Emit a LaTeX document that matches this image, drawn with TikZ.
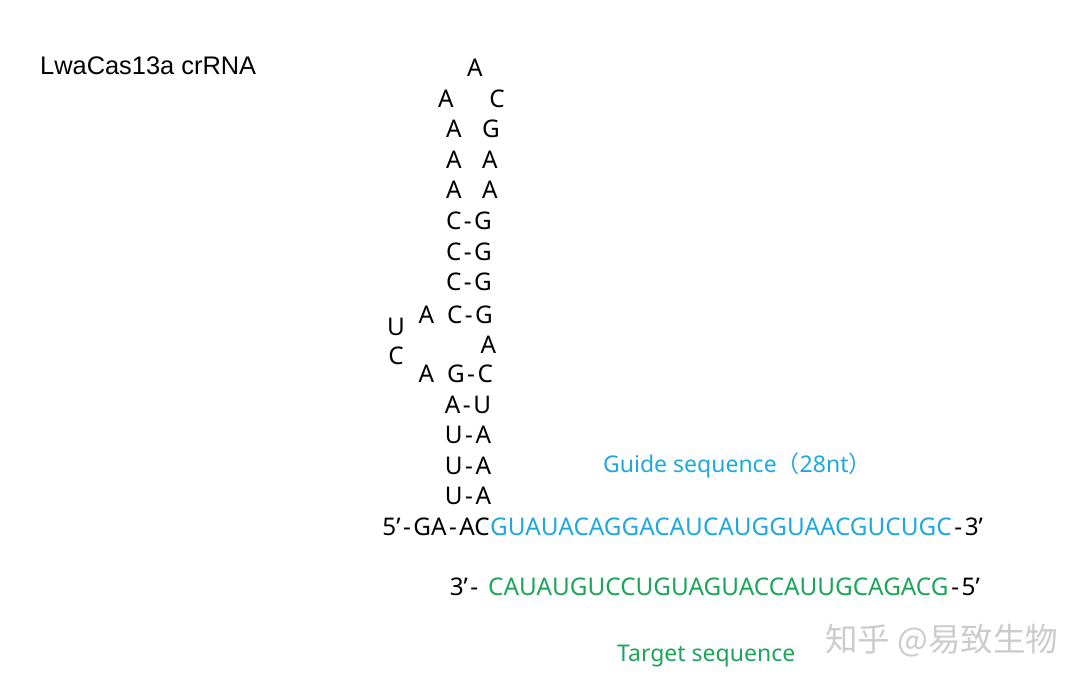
\documentclass[tikz,border=0pt]{standalone}
\usepackage{fontspec}
\setmainfont{Noto Sans}
\newfontfamily\titlefont{Liberation Sans}
\newfontfamily\cjk{Noto Sans CJK SC}
\usetikzlibrary{calc,positioning}
\definecolor{guideblue}{RGB}{31,168,220}
\definecolor{targetgreen}{RGB}{28,164,88}
\newcommand{\bnd}{\kern2.5pt-\kern2.5pt}

\begin{document}
\begin{tikzpicture}[x=1pt,y=-1pt,
        nt/.style={inner sep=0pt, font=\fontsize{24.3}{26}\selectfont},
        lbl/.style={inner sep=0pt, anchor=base west, font=\fontsize{23}{25}\selectfont}]
  \useasboundingbox (0,0) rectangle (1086,687);

  \node [inner sep=0pt, anchor=base west, font=\titlefont\fontsize{25.4}{27}\selectfont] (title) at (40,75) {LwaCas13a crRNA};

  %% loop
  \node [nt] (loop_top) at (475,68) {A};
  \node [nt] (loop_l1) at (446,99) {A};
  \node [nt] (loop_r1) at (497,99) {C};
  \node [nt] (loop_l2) at (454,129) {A};
  \node [nt] (loop_r2) at (491,129) {G};
  \foreach \a/\y in {3/160,4/190} {
    \node [nt,name=loop_l\a] at (454,\y) {A};
    \node [nt,name=loop_r\a] at (490,\y) {A};
  }

  %% upper stem
  \foreach \a/\y in {5/221,6/252,7/282} {
    \node [nt,name=stem_li\a] at (469,\y) {C\bnd G};
  }
  \node [nt] (stem_li8) at (470,315) {C\bnd G};

  %% bulge
  \node [nt] (bulge_l1) at (426.5,315) {A};
  \node [nt] (bulge_u) at (396,327) {U};
  \node [nt] (bulge_c) at (396,356) {C};
  \node [nt] (bulge_r) at (488.5,345) {A};
  \node [nt] (bulge_l2) at (426.5,374) {A};

  %% lower stem
  \node [nt] (stem_li10) at (470,374) {G\bnd C};
  \node [nt] (stem_li11) at (468,405) {A\bnd U};
  \foreach \a/\y in {12/435,13/466,14/496} {
    \node [nt,name=stem_li\a] at (468,\y) {U\bnd A};
  }

  %% guide and target
  \node [nt, anchor=base west, text=guideblue] (seq_guide) at (490,535) {GUAUACAGGACAUCAUGGUAACGUCUGC};
  \node [nt, anchor=base east] (seq_guide_5p) at (seq_guide.base west) {5’\bnd GA\bnd AC};
  \node [nt, anchor=base west] (seq_guide_3p) at (seq_guide.base east) {\bnd 3’};

  \node [nt, anchor=base west, text=targetgreen] (seq_target) at (488,595) {CAUAUGUCCUGUAGUACCAUUGCAGACG};
  \node [nt, anchor=base east] (seq_target_3p) at (seq_target.base west) {3’\bnd\kern7pt};
  \node [nt, anchor=base west] (seq_target_5p) at (seq_target.base east) {\bnd 5’};

  \node [lbl, text=guideblue] (lbl_guide) at (603,472.5) {Guide sequence{\cjk （}28nt{\cjk ）}};
  \node [lbl, text=targetgreen] (lbl_target) at (617,661) {Target sequence};

  \node [inner sep=0pt, anchor=west, text=gray!40, font=\cjk\fontsize{32.5}{34}\selectfont] (mark) at (825,641) {知乎 @易致生物};
\end{tikzpicture}
\end{document}
